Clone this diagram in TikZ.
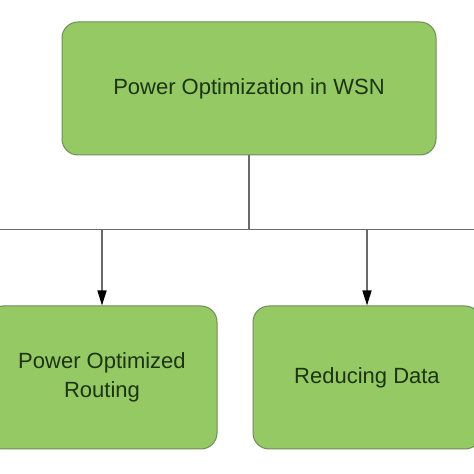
\documentclass[tikz,border=0pt]{standalone}
\usepackage{fontspec}
\setmainfont{Liberation Sans}
\usetikzlibrary{arrows.meta}
\definecolor{boxgreen}{RGB}{148,201,99}
\definecolor{boxedge}{RGB}{112,140,88}
\definecolor{boxtext}{RGB}{28,52,18}
\definecolor{linegray}{RGB}{105,105,105}
\tikzset{
  block/.style={draw=boxedge,line width=1pt,fill=boxgreen,rounded corners=16pt,
    text=boxtext,align=center,inner sep=0pt,
    font=\fontsize{22}{29}\selectfont},
  link/.style={draw=linegray,line width=1.5pt},
  tip/.style={-{Triangle[length=15pt,width=9pt,black]}}
}
\begin{document}
\begin{tikzpicture}[x=1pt,y=1pt]
  \useasboundingbox (0,0) rectangle (474,474);
  \clip (0,0) rectangle (474,474);
  \fill[white] (0,0) rectangle (474,474);
  % boxes
  \node[block,minimum width=374pt,minimum height=133pt] (top) at (249,385.5) {Power Optimization in WSN};
  \node[block,minimum width=230pt,minimum height=143pt] (route) at (102,96.5) {Power Optimized\\Routing};
  \node[block,minimum width=228pt,minimum height=143pt] (reduce) at (367,96.5) {Reducing Data};
  % bus line
  \coordinate (busL) at (-2,244.5);
  \coordinate (busR) at (476,244.5);
  \draw[link] (busL) -- (busR);
  \draw[link] (top.south) -- (top.south |- busL);
  \draw[link,tip] (route.north |- busL) -- (route.north);
  \draw[link,tip] (reduce.north |- busL) -- (reduce.north);
\end{tikzpicture}
\end{document}
